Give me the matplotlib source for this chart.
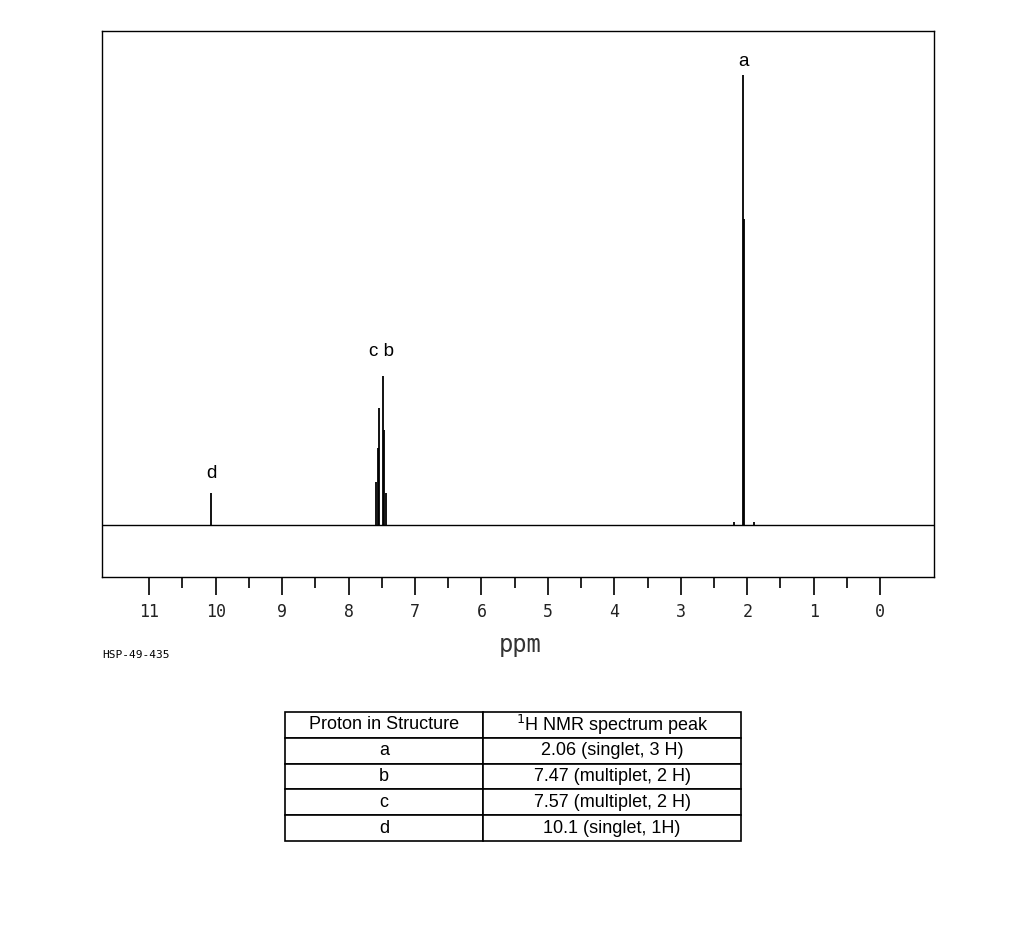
import matplotlib
matplotlib.use("Agg")
import matplotlib.pyplot as plt
import numpy as np

# Peak data (ppm, relative height)
peak_ppm = [10.07, 7.586, 7.562, 7.536, 7.487, 7.461, 7.435, 2.06, 2.05, 2.20, 1.90]
peak_h = [7.1, 9.6, 17.0, 26.0, 33.0, 21.0, 7.0, 100.0, 68.0, 0.6, 0.6]
peak_labels = ["d", "c b", "a"]
label_ppm = [10.07, 7.51, 2.06]
label_y = [11.5, 38.5, 103.0]
tick_vals = list(range(0, 12))

table_cols = ["Proton in Structure", "$^1$H NMR spectrum peak"]
table_protons = ["a", "b", "c", "d"]
table_peaks = ["2.06 (singlet, 3 H)", "7.47 (multiplet, 2 H)", "7.57 (multiplet, 2 H)", "10.1 (singlet, 1H)"]

fig = plt.figure(figsize=(10.24, 9.49), dpi=100)
ax = fig.add_axes([102/1024, 1-577/949, 832/1024, 546/949])
xmin, xmax = 11.71, -0.81
ax.set_xlim(xmin, xmax)
ax.set_ylim(-11.6, 109.8)
ax.axhline(0, color="black", lw=1.0)
ax.vlines(peak_ppm, 0, peak_h, color="black", lw=1.3)
for lab, x, y in zip(peak_labels, label_ppm, label_y):
    ax.text(x, y, lab, ha="center", va="center", fontsize=13.5, family="Liberation Sans")
ax.set_yticks([])
ax.set_xticks(tick_vals)
ax.set_xticklabels([str(t) for t in tick_vals], family="DejaVu Sans Mono", fontsize=12, color="#222222")
ax.set_xticks(np.arange(0.5, 11.0, 1.0), minor=True)
ax.tick_params(axis="x", which="major", direction="out", length=13, width=1.2, pad=6)
ax.tick_params(axis="x", which="minor", direction="out", length=8, width=1.2)
for s in ax.spines.values():
    s.set_linewidth(1.0)
fig.text(520/1024, 1-645/949, "ppm", ha="center", va="center", fontsize=17, family="DejaVu Sans Mono", color="#333333")
fig.text(102/1024, 1-655/949, "HSP-49-435", ha="left", va="center", fontsize=8, family="DejaVu Sans Mono")

tax = fig.add_axes([285/1024, 1-841/949, 456/1024, 129/949])
tax.axis("off")
cells = [[p, q] for p, q in zip(table_protons, table_peaks)]
tbl = tax.table(cellText=cells, colLabels=table_cols, cellLoc="center", bbox=[0, 0, 1, 1],
                colWidths=[198/456, 258/456])
tbl.auto_set_font_size(False)
for (r, c), cell in tbl.get_celld().items():
    cell.set_linewidth(1.2)
    cell.get_text().set_fontsize(13)
    cell.get_text().set_family("Liberation Sans")
fig.savefig("out.png", dpi=100)
